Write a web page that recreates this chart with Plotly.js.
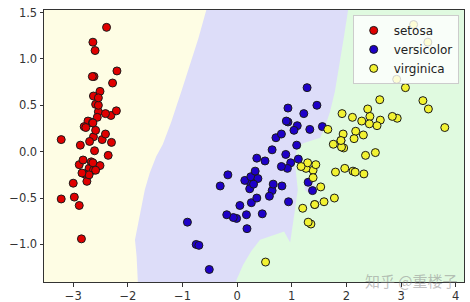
<!DOCTYPE html>
<html>
<head>
<meta charset="utf-8">
<script src="https://cdn.plot.ly/plotly-3.0.1.min.js"></script>
<style>html,body{margin:0;padding:0;background:#fff;}#chart{width:470px;height:302px;}</style>
</head>
<body>
<div id="chart"></div>
<script>
// ---- data (PCA of iris) ----
const classNames = ['setosa', 'versicolor', 'virginica'];

const setosaX = [-2.68,-2.71,-2.89,-2.75,-2.73,-2.28,-2.82,-2.63,-2.89,-2.67,-2.51,-2.61,-2.79,-3.22,-2.64,-2.39,-2.62,-2.65,-2.20,-2.59,-2.31,-2.54,-3.22,-2.30,-2.36,-2.51,-2.47,-2.56,-2.64,-2.63,-2.59,-2.41,-2.65,-2.60,-2.64,-2.87,-2.63,-2.80,-2.98,-2.59,-2.77,-2.85,-3.00,-2.41,-2.21,-2.71,-2.54,-2.84,-2.54,-2.70];
const setosaY = [0.32,-0.18,-0.14,-0.32,0.33,0.74,-0.09,0.16,-0.58,-0.11,0.65,0.01,-0.24,-0.51,1.18,1.34,0.81,0.31,0.87,0.51,0.39,0.43,0.13,0.10,-0.04,-0.15,0.13,0.37,0.31,-0.20,-0.20,0.41,0.81,1.09,-0.12,0.07,0.60,0.27,-0.49,0.23,0.26,-0.94,-0.34,0.19,0.44,-0.25,0.50,-0.23,0.58,0.11];

const versicolorX = [1.28,0.93,1.46,0.18,1.09,0.64,1.10,-0.75,1.04,-0.01,-0.51,0.51,0.26,0.98,-0.17,0.93,0.66,0.24,0.94,0.05,1.12,0.36,1.30,0.92,0.71,0.90,1.33,1.56,0.81,-0.31,-0.07,-0.19,0.14,1.38,0.59,0.81,1.22,0.82,0.25,0.17,0.46,0.89,0.23,-0.70,0.36,0.33,0.38,0.64,-0.91,0.30];
const versicolorY = [0.69,0.32,0.50,-0.83,0.07,-0.42,0.28,-1.00,0.23,-0.72,-1.27,-0.10,-0.55,-0.12,-0.25,0.47,-0.35,-0.33,-0.54,-0.58,-0.08,-0.07,-0.33,-0.18,0.15,0.33,0.24,0.27,-0.16,-0.37,-0.71,-0.68,-0.31,-0.42,-0.48,0.19,0.41,-0.37,-0.27,-0.68,-0.67,-0.03,-0.40,-1.01,-0.50,-0.21,-0.29,0.02,-0.76,-0.35];

const virginicaX = [2.53,1.42,2.62,1.97,2.35,3.40,0.52,2.93,2.32,2.92,1.66,1.80,2.17,1.35,1.59,1.90,1.95,3.49,3.80,1.30,2.43,1.20,3.50,1.39,2.28,2.61,1.26,1.29,2.12,2.39,2.84,3.23,2.16,1.44,1.78,3.08,2.14,1.91,1.17,2.11,2.31,1.92,1.42,2.56,2.42,1.94,1.53,1.76,1.90,1.39];
const virginicaY = [-0.01,-0.57,0.34,-0.18,-0.04,0.55,-1.19,0.36,-0.24,0.78,0.24,-0.22,0.22,-0.78,-0.54,0.12,0.04,1.18,0.26,-0.76,0.38,-0.61,0.46,-0.20,0.33,0.56,-0.18,-0.12,-0.21,0.46,0.38,1.37,-0.22,-0.14,-0.50,0.69,0.14,0.05,-0.16,0.37,0.18,0.41,-0.57,0.28,0.30,0.19,-0.38,0.08,0.12,-0.28];

// decision boundaries (top to bottom)
const boundarySetVerX = [-0.53,-0.71,-0.90,-1.02,-1.10,-1.20,-1.36,-1.48,-1.60,-1.69,-1.75,-1.84,-1.87,-1.84,-1.81];
const boundarySetVerY = [1.60,1.22,0.86,0.65,0.51,0.33,0.08,-0.05,-0.23,-0.41,-0.59,-0.87,-0.95,-1.13,-1.50];
const boundaryVerVirX = [2.05,1.95,1.85,1.79,1.70,1.61,1.52,1.21,1.09,1.06,1.09,1.11,1.06,0.97,0.86,0.60,0.42,0.26,0.11,-0.01,-0.05];
const boundaryVerVirY = [1.60,1.22,0.86,0.65,0.43,0.27,0.15,0.09,0.02,-0.14,-0.30,-0.41,-0.62,-0.98,-0.86,-0.91,-0.95,-1.07,-1.22,-1.38,-1.50];
const islandVerX = [1.22,1.31,1.42,1.44,1.35,1.24];
const islandVerY = [-0.30,-0.27,-0.36,-0.44,-0.47,-0.41];

const xRange = [-3.535, 4.152];
const yRange = [-1.405, 1.527];
const xTicks = [-3,-2,-1,0,1,2,3,4];
const yTicks = [-1.0,-0.5,0.0,0.5,1.0,1.5];

// ---- styles ----
const regionColors = ['#FEFDE4', '#DDDDF9', '#E0FAE0'];
const pointColors = ['#E00000', '#1E00C8', '#F2F232'];

const far = 10;
const yellowPolyX = [-far].concat(boundarySetVerX, [-far]);
const yellowPolyY = [boundarySetVerY[0]].concat(boundarySetVerY, [boundarySetVerY[boundarySetVerY.length-1]]);
const greenPolyX = [far].concat(boundaryVerVirX, [far]);
const greenPolyY = [boundaryVerVirY[0]].concat(boundaryVerVirY, [boundaryVerVirY[boundaryVerVirY.length-1]]);

function region(x, y, color) {
  return {type:'scatter', mode:'lines', x:x, y:y, fill:'toself', fillcolor:color,
          line:{width:0, color:color}, hoverinfo:'skip', showlegend:false};
}
function points(x, y, name, color) {
  return {type:'scatter', mode:'markers', x:x, y:y, name:name,
          marker:{size:8, color:color, line:{width:1, color:'#1a1a1a'}}};
}

const data = [
  region(yellowPolyX, yellowPolyY, regionColors[0]),
  region(greenPolyX, greenPolyY, regionColors[2]),
  region(islandVerX, islandVerY, regionColors[1]),
  points(setosaX, setosaY, classNames[0], pointColors[0]),
  points(versicolorX, versicolorY, classNames[1], pointColors[1]),
  points(virginicaX, virginicaY, classNames[2], pointColors[2])
];

const axisCommon = {
  showgrid:false, zeroline:false, showline:true, mirror:true,
  linecolor:'#333', linewidth:1, ticks:'outside', ticklen:3.5, tickwidth:1, tickcolor:'#333',
  tickfont:{family:'DejaVu Sans', size:11.5, color:'#333'}
};

const layout = {
  width:470, height:302,
  margin:{l:44, r:6, t:10, b:20},
  paper_bgcolor:'#ffffff',
  plot_bgcolor:regionColors[1],
  font:{family:'DejaVu Sans', size:12, color:'#222'},
  xaxis:Object.assign({}, axisCommon, {range:xRange, tickvals:xTicks, tickformat:'d', fixedrange:true}),
  yaxis:Object.assign({}, axisCommon, {range:yRange, tickvals:yTicks, tickformat:'.1f', fixedrange:true}),
  legend:{x:0.735, y:0.982, xanchor:'left', yanchor:'top',
          bgcolor:'rgba(255,255,255,0.8)', bordercolor:'#cccccc', borderwidth:1,
          font:{family:'DejaVu Sans', size:12, color:'#222'}},
  showlegend:true,
  annotations:[{
    xref:'paper', yref:'paper', x:0.876, y:0.004, xanchor:'center', yanchor:'middle',
    text:'知乎 @重楼子', showarrow:false,
    font:{family:'Noto Sans CJK SC', size:15, color:'rgba(140,140,140,0.55)'}
  }]
};

Plotly.newPlot('chart', data, layout, {displayModeBar:false, staticPlot:true});
</script>
</body>
</html>
